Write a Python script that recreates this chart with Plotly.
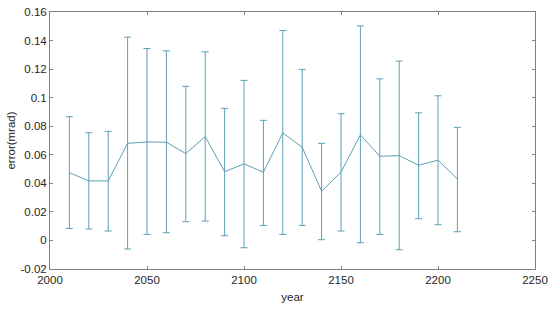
import plotly.graph_objects as go

years = [2010, 2020, 2030, 2040, 2050, 2060, 2070, 2080, 2090, 2100, 2110,
         2120, 2130, 2140, 2150, 2160, 2170, 2180, 2190, 2200, 2210]
mean_err = [0.0475, 0.0417, 0.0417, 0.0680, 0.0690, 0.0688, 0.0608, 0.0727, 0.0482, 0.0536, 0.0478,
            0.0753, 0.0653, 0.0345, 0.0478, 0.0739, 0.0590, 0.0594, 0.0527, 0.0562, 0.0431]
upper = [0.0867, 0.0755, 0.0764, 0.1424, 0.1344, 0.1328, 0.1079, 0.1321, 0.0925, 0.1121, 0.0841,
         0.1470, 0.1198, 0.0680, 0.0888, 0.1502, 0.1132, 0.1256, 0.0894, 0.1013, 0.0792]
lower = [0.0084, 0.0080, 0.0066, -0.0060, 0.0042, 0.0054, 0.0131, 0.0136, 0.0033, -0.0051, 0.0105,
         0.0042, 0.0105, 0.0005, 0.0066, -0.0016, 0.0042, -0.0065, 0.0152, 0.0110, 0.0061]

x_ticks = [2000, 2050, 2100, 2150, 2200, 2250]
y_ticks = [-0.02, 0, 0.02, 0.04, 0.06, 0.08, 0.1, 0.12, 0.14, 0.16]
y_tick_text = ["-0.02", "0", "0.02", "0.04", "0.06", "0.08", "0.1", "0.12", "0.14", "0.16"]

err_plus = [u - m for u, m in zip(upper, mean_err)]
err_minus = [m - l for m, l in zip(mean_err, lower)]

color = "#5d9fb5"

fig = go.Figure()
fig.add_trace(go.Scatter(
    x=years, y=mean_err, mode="lines",
    line=dict(color=color, width=1),
    error_y=dict(type="data", symmetric=False, array=err_plus, arrayminus=err_minus,
                 color=color, thickness=1, width=3.5),
    showlegend=False,
))

font = dict(family="Liberation Sans, Arial, sans-serif", size=11.5, color="#262626")

fig.update_layout(
    width=550, height=311,
    margin=dict(l=50, r=15, t=12, b=42),
    paper_bgcolor="white", plot_bgcolor="white",
    font=font,
    xaxis=dict(range=[2000, 2250], tickvals=x_ticks, ticks="inside", ticklen=3,
               tickcolor="#808080", showline=True, linecolor="#808080", linewidth=1,
               mirror="allticks", showgrid=False, zeroline=False, automargin=False,
               title=dict(text="year", font=font, standoff=8)),
    yaxis=dict(range=[-0.02, 0.16], tickvals=y_ticks, ticktext=y_tick_text,
               ticks="inside", ticklen=3, tickcolor="#808080", showline=True,
               linecolor="#808080", linewidth=1, mirror="allticks",
               showgrid=False, zeroline=False, automargin=False,
               title=dict(text="error(mrad)", font=font, standoff=2)),
)

fig.write_html(
    "out.html",
    config={"displayModeBar": False},
    post_script="document.body.style.margin='0';document.body.style.overflow='hidden';",
)
